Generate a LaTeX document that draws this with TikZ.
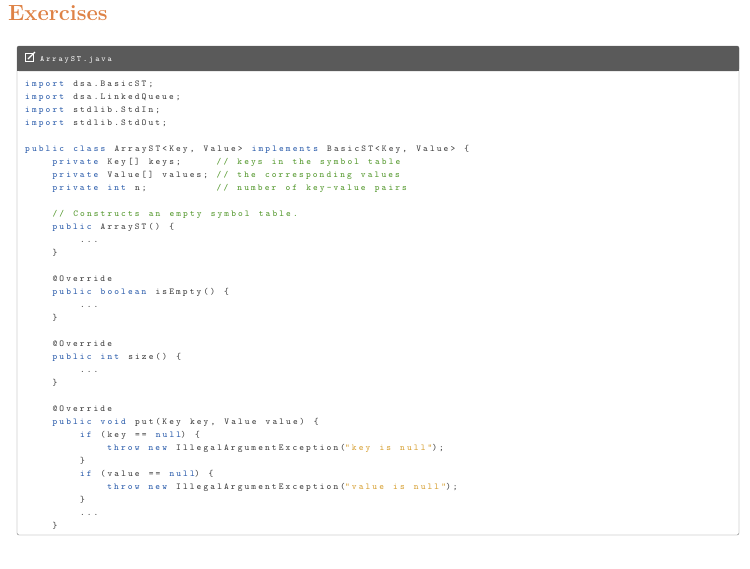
\documentclass[tikz,border=0pt]{standalone}
\usepackage{fontspec}
\newfontfamily\codefont{Latin Modern Mono}[LetterSpace=23.5,WordSpace=1.34]
\definecolor{kw}{RGB}{40,90,170}
\definecolor{cm}{RGB}{80,150,40}
\definecolor{st}{RGB}{215,160,50}
\definecolor{tx}{RGB}{60,60,60}
\definecolor{ttl}{RGB}{222,130,70}
\definecolor{hdr}{RGB}{90,90,90}
\newcommand{\kw}[1]{\textcolor{kw}{#1}}
\newcommand{\cm}[1]{\textcolor{cm}{#1}}
\newcommand{\stt}[1]{\textcolor{st}{#1}}
\begin{document}
\begin{tikzpicture}[x=1pt,y=-1pt,
  code/.style={anchor=base west,inner sep=0pt,text=tx,font=\codefont\fontsize{9}{9}\selectfont}]
\useasboundingbox (0,0) rectangle (750,568);
\node[anchor=base west,inner sep=0pt,text=ttl,font=\bfseries\fontsize{22}{24}\selectfont] (title) at (8,20.5) {Exercises};
\draw[draw=hdr!80, fill=white, rounded corners=2pt] (17,46) rectangle (739,535);
\fill[hdr, rounded corners=2pt] (17,46) rectangle (739,71);
\fill[hdr] (17,60) rectangle (739,71);
\draw[white, line width=0.6pt] (25,53) rectangle (33,61);
\draw[white, line width=1.2pt] (28,59) -- (35,52);
\node[code,text=white,font=\codefont\fontsize{8}{8}\selectfont] (fname) at (40,61) {ArrayST.java};
\def\L#1#2#3{\node[code] at (#1*27.4+25, 86+13*#2) {#3};}
\def\C#1#2{\node[code] at (25+28*6.84, 86+13*#1) {\cm{#2}};}
\L{0}{0}{\kw{import} dsa.BasicST;}
\L{0}{1}{\kw{import} dsa.LinkedQueue;}
\L{0}{2}{\kw{import} stdlib.StdIn;}
\L{0}{3}{\kw{import} stdlib.StdOut;}
\L{0}{5}{\kw{public} \kw{class} ArrayST<Key, Value> \kw{implements} BasicST<Key, Value> \{}
\L{1}{6}{\kw{private} Key[] keys;}\C{6}{// keys in the symbol table}
\L{1}{7}{\kw{private} Value[] values;}\C{7}{// the corresponding values}
\L{1}{8}{\kw{private} \kw{int} n;}\C{8}{// number of key-value pairs}
\L{1}{10}{\cm{// Constructs an empty symbol table.}}
\L{1}{11}{\kw{public} ArrayST() \{}
\L{2}{12}{...}
\L{1}{13}{\}}
\L{1}{15}{@Override}
\L{1}{16}{\kw{public} \kw{boolean} isEmpty() \{}
\L{2}{17}{...}
\L{1}{18}{\}}
\L{1}{20}{@Override}
\L{1}{21}{\kw{public} \kw{int} size() \{}
\L{2}{22}{...}
\L{1}{23}{\}}
\L{1}{25}{@Override}
\L{1}{26}{\kw{public} \kw{void} put(Key key, Value value) \{}
\L{2}{27}{\kw{if} (key == \kw{null}) \{}
\L{3}{28}{\kw{throw} \kw{new} IllegalArgumentException(\stt{"key is null"});}
\L{2}{29}{\}}
\L{2}{30}{\kw{if} (value == \kw{null}) \{}
\L{3}{31}{\kw{throw} \kw{new} IllegalArgumentException(\stt{"value is null"});}
\L{2}{32}{\}}
\L{2}{33}{...}
\L{1}{34}{\}}
\end{tikzpicture}
\end{document}
